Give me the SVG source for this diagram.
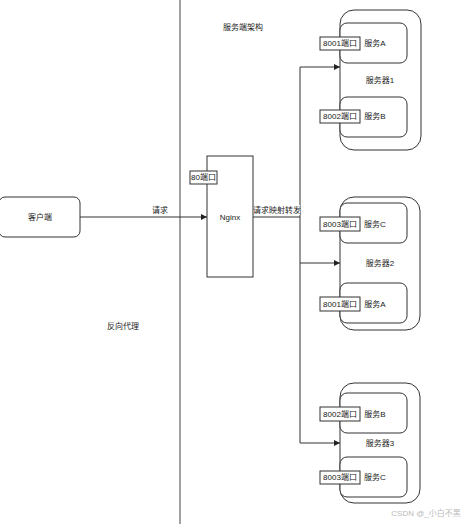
<svg xmlns="http://www.w3.org/2000/svg" width="474" height="524" viewBox="0 0 474 524">
<defs>
<marker id="arr" viewBox="0 0 8 8" refX="8" refY="4" markerWidth="6" markerHeight="6" orient="auto" markerUnits="userSpaceOnUse">
<path d="M0,0 L8,4 L0,8 Z" fill="#222"/>
</marker>
<style>
.t{font-family:"Liberation Sans","Noto Sans CJK SC",sans-serif;font-size:8px;fill:#222;text-anchor:middle;dominant-baseline:central}
.box{fill:#fff;stroke:#333;stroke-width:1}
.ln{fill:none;stroke:#333;stroke-width:1}
</style>
</defs>
<rect width="474" height="524" fill="#fff"/>
<line x1="180" y1="0" x2="180" y2="524" stroke="#444" stroke-width="1"/>
<text class="t" x="243" y="27">服务端架构</text>
<text class="t" x="123" y="326">反向代理</text>

<g id="connectors">
<path class="ln" d="M80,217 H207" marker-end="url(#arr)"/>
<rect x="148" y="205" width="24" height="10" fill="#fff"/>
<text class="t" x="160" y="210">请求</text>
<path class="ln" d="M253,217 H300 V67 H340" marker-end="url(#arr)"/>
<path class="ln" d="M300,217 V443 H340" marker-end="url(#arr)"/>
<path class="ln" d="M300,263 H340" marker-end="url(#arr)"/>
<rect x="254" y="205" width="46" height="10" fill="#fff"/>
<text class="t" x="277" y="210">请求映射转发</text>
</g>

<g id="client">
<rect class="box" x="-1" y="197" width="81" height="40" rx="6"/>
<text class="t" x="40" y="217">客户端</text>
</g>

<g id="nginx">
<rect class="box" x="207" y="156" width="46" height="121"/>
<text class="t" x="230" y="217">Nginx</text>
<rect class="box" x="190" y="171" width="27" height="13"/>
<text class="t" x="203.5" y="177.5">80端口</text>
</g>

<g id="server1">
<rect class="box" x="340" y="10" width="81" height="140" rx="14"/>
<text class="t" x="380" y="80">服务器1</text>
<rect class="box" x="340" y="23" width="67" height="40" rx="7"/>
<rect class="box" x="320" y="37" width="40" height="13"/>
<text class="t" x="340" y="43.5">8001端口</text>
<text class="t" x="375" y="43.5">服务A</text>
<rect class="box" x="340" y="97" width="67" height="40" rx="7"/>
<rect class="box" x="320" y="110" width="40" height="13"/>
<text class="t" x="340" y="116.5">8002端口</text>
<text class="t" x="375" y="116.5">服务B</text>
</g>

<g id="server2">
<rect class="box" x="340" y="197" width="80" height="133" rx="14"/>
<text class="t" x="380" y="263">服务器2</text>
<rect class="box" x="340" y="203" width="67" height="40" rx="7"/>
<rect class="box" x="320" y="217" width="40" height="14"/>
<text class="t" x="340" y="224">8003端口</text>
<text class="t" x="375" y="224">服务C</text>
<rect class="box" x="340" y="283" width="67" height="40" rx="7"/>
<rect class="box" x="320" y="297" width="40" height="14"/>
<text class="t" x="340" y="304">8001端口</text>
<text class="t" x="375" y="304">服务A</text>
</g>

<g id="server3">
<rect class="box" x="340" y="383" width="80" height="120" rx="14"/>
<text class="t" x="380" y="443">服务器3</text>
<rect class="box" x="340" y="393" width="67" height="40" rx="7"/>
<rect class="box" x="320" y="407" width="40" height="14"/>
<text class="t" x="340" y="414">8002端口</text>
<text class="t" x="375" y="414">服务B</text>
<rect class="box" x="340" y="457" width="67" height="40" rx="7"/>
<rect class="box" x="320" y="471" width="40" height="13"/>
<text class="t" x="340" y="477.5">8003端口</text>
<text class="t" x="375" y="477.5">服务C</text>
</g>

<text x="426" y="513" style="font-family:'Liberation Sans','Noto Sans CJK SC',sans-serif;font-size:8px;fill:#bbb;text-anchor:middle;dominant-baseline:central">CSDN @_小白不黑</text>
</svg>
